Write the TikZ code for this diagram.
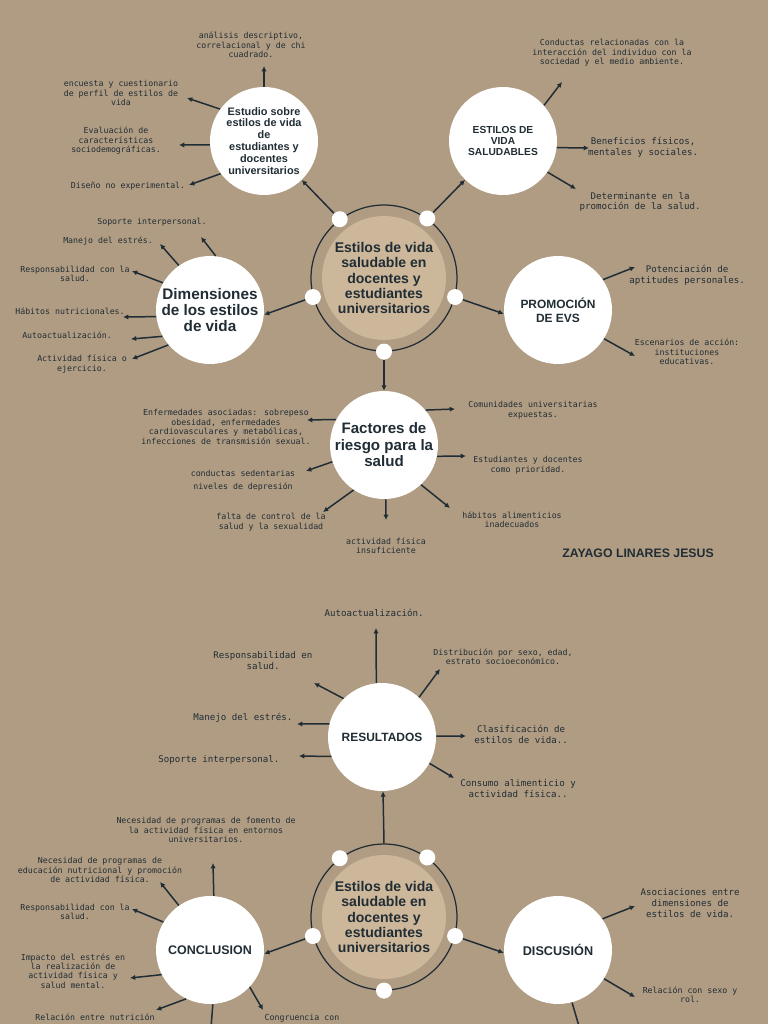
\documentclass[tikz,border=0pt]{standalone}
\usepackage{fontspec}
\setmainfont{Liberation Sans}
\newfontfamily\notefont{DejaVu Sans Mono}
\usetikzlibrary{arrows.meta}
\definecolor{paper}{RGB}{176,156,131}
\definecolor{sand}{RGB}{205,183,155}
\definecolor{ink}{RGB}{33,45,52}

\begin{document}
\begin{tikzpicture}[x=0.02cm, y=-0.02cm,
  hub/.style={circle,fill=sand,minimum size=2.48cm,inner sep=0pt,align=center,text=ink,font=\bfseries\fontsize{8}{8.6}\selectfont},
  ring/.style={circle,draw=ink,line width=0.7pt,minimum size=2.92cm,inner sep=0pt},
  knob/.style={circle,fill=white,minimum size=0.32cm,inner sep=0pt},
  topic/.style={circle,fill=white,minimum size=2.16cm,inner sep=0pt,align=center,text=ink},
  note/.style={align=center,text=ink,inner sep=0pt,font=\notefont\fontsize{4.7}{5.4}\selectfont},
  bignote/.style={note,font=\notefont\fontsize{5.2}{6.2}\selectfont},
  spoke/.style={draw=ink,line width=0.85pt,-{Latex[length=3pt,width=3pt]}}]
  \useasboundingbox (0,0) rectangle (768,1024);
  \fill[paper] (0,0) rectangle (768,1024);
  \clip (0,0) rectangle (768,1024);

  % upper map
  \node[ring] (ringA) at (384,278) {};
  \node[hub] (hubA) at (384,278) {Estilos de vida\\saludable en\\docentes y\\estudiantes\\universitarios};
  \foreach \a/\n in {127/nw,54/ne,195/w,345/e,270/s} \node[knob] (kA\n) at (ringA.\a) {};

  \node[topic,font=\bfseries\fontsize{6.2}{6.8}\selectfont] (estudio) at (264,141) {Estudio sobre\\estilos de vida\\de\\estudiantes y\\docentes\\universitarios};
  \node[topic,font=\bfseries\fontsize{5.8}{6.1}\selectfont] (saludables) at (503,141) {ESTILOS DE\\VIDA\\SALUDABLES};
  \node[topic,font=\bfseries\fontsize{6.8}{8}\selectfont] (promocion) at (558,310) {PROMOCIÓN\\DE EVS};
  \node[topic,font=\bfseries\fontsize{8.7}{9.1}\selectfont] (dimensiones) at (210,310) {Dimensiones\\de los estilos\\de vida};
  \node[topic,font=\bfseries\fontsize{8.6}{9.4}\selectfont] (factores) at (384,445) {Factores de\\riesgo para la\\salud};

  \draw[spoke] (kAnw) -- (estudio);
  \draw[spoke] (kAne) -- (saludables);
  \draw[spoke] (kAe) -- (promocion.184);
  \draw[spoke] (kAw) -- (dimensiones.355);
  \draw[spoke] (kAs) -- (factores);

  \foreach \n/\a/\x/\y in {1/90/264/66, 2/144/187/98, 3/184/179/145, 4/217/189/185} {
    \coordinate (estudio-\n) at (\x,\y);
    \draw[spoke] (estudio.\a) -- (estudio-\n);
  }
  \foreach \n/\a/\x/\y in {1/41/562/82, 2/353/589/148, 3/325/576/189} {
    \coordinate (saludables-\n) at (\x,\y);
    \draw[spoke] (saludables.\a) -- (saludables-\n);
  }
  \foreach \n/\a/\x/\y in {1/34/635/267, 2/328/635/356} {
    \coordinate (promocion-\n) at (\x,\y);
    \draw[spoke] (promocion.\a) -- (promocion-\n);
  }
  \foreach \n/\a/\x/\y in {1/84/201/237, 2/125/160/244, 3/150/132/271, 4/187/123/317, 5/209/131/339, 6/220/132/359} {
    \coordinate (dimensiones-\n) at (\x,\y);
    \draw[spoke] (dimensiones.\a) -- (dimensiones-\n);
  }
  \foreach \n/\a/\x/\y in {1/40/455/409, 2/348/466/456, 3/313/450/508, 4/272/386/520, 5/236/323/512, 6/198/306/471, 7/152/307/420} {
    \coordinate (factores-\n) at (\x,\y);
    \draw[spoke] (factores.\a) -- (factores-\n);
  }

  \node[note] (estudio-t1) at (251,45) {análisis descriptivo,\\correlacional y de chi\\cuadrado.};
  \node[note] (estudio-t2) at (121,93) {encuesta y cuestionario\\de perfil de estilos de\\vida};
  \node[note] (estudio-t3) at (116,141) {Evaluación de\\características\\sociodemográficas.};
  \node[note] (estudio-t4) at (128,186) {Diseño no experimental.};
  \node[note] (saludables-t1) at (612,53) {Conductas relacionadas con la\\interacción del individuo con la\\sociedad y el medio ambiente.};
  \node[bignote] (saludables-t2) at (643,147) {Beneficios físicos,\\mentales y sociales.};
  \node[bignote] (saludables-t3) at (640,202) {Determinante en la\\promoción de la salud.};
  \node[bignote] (promocion-t1) at (687,275) {Potenciación de\\aptitudes personales.};
  \node[note] (promocion-t2) at (687,352) {Escenarios de acción:\\instituciones\\educativas.};
  \node[note] (dimensiones-t1) at (152,222) {Soporte interpersonal.};
  \node[note] (dimensiones-t2) at (108,241) {Manejo del estrés.};
  \node[note] (dimensiones-t3) at (75,274) {Responsabilidad con la\\salud.};
  \node[note] (dimensiones-t4) at (70,311) {Hábitos nutricionales.};
  \node[note] (dimensiones-t5) at (67,335) {Autoactualización.};
  \node[note] (dimensiones-t6) at (82,364) {Actividad física o\\ejercicio.};
  \node[note] (factores-t1) at (533,410) {Comunidades universitarias\\expuestas.};
  \node[note] (factores-t2) at (528,465) {Estudiantes y docentes\\como prioridad.};
  \node[note] (factores-t3) at (512,520) {hábitos alimenticios\\inadecuados};
  \node[note] (factores-t4) at (386,546) {actividad física\\insuficiente};
  \node[note] (factores-t5) at (271,522) {falta de control de la\\salud y la sexualidad};
  \node[note] (factores-t6) at (243,473) {conductas sedentarias};
  \node[note] (factores-t8) at (243,487) {niveles de depresión};
  \node[note] (factores-t7) at (226,427) {Enfermedades asociadas: sobrepeso\\obesidad, enfermedades\\cardiovasculares y metabólicas,\\infecciones de transmisión sexual.};

  \node[text=ink,font=\bfseries\fontsize{7}{8}\selectfont] (autor) at (638,553) {ZAYAGO LINARES JESUS};

  % lower map
  \node[ring] (ringB) at (384,917) {};
  \node[hub] (hubB) at (384,917) {Estilos de vida\\saludable en\\docentes y\\estudiantes\\universitarios};
  \foreach \a/\n in {127/nw,54/ne,195/w,345/e,270/s} \node[knob] (kB\n) at (ringB.\a) {};

  \node[topic,font=\bfseries\fontsize{6.8}{8}\selectfont] (resultados) at (382,737) {RESULTADOS};
  \node[topic,font=\bfseries\fontsize{7.1}{8}\selectfont] (conclusion) at (210,950) {CONCLUSION};
  \node[topic,font=\bfseries\fontsize{7.2}{8}\selectfont] (discusion) at (558,950) {DISCUSIÓN};

  \draw[spoke] (ringB.north) -- (resultados);
  \draw[spoke] (kBw) -- (conclusion.356);
  \draw[spoke] (kBe) -- (discusion.183);

  \foreach \n/\a/\x/\y in {1/96/376/628, 2/135/314/683, 3/166/297/724, 4/201/299/756, 5/47/440/669, 6/1/466/736, 7/331/454/778} {
    \coordinate (resultados-\n) at (\x,\y);
    \draw[spoke] (resultados.\a) -- (resultados-\n);
  }
  \foreach \n/\a/\x/\y in {1/86/213/863, 2/125/160/882, 3/149/132/909, 4/207/130/978, 5/244/156/1010, 6/273/210/1040, 7/317/263/1010} {
    \coordinate (conclusion-\n) at (\x,\y);
    \draw[spoke] (conclusion.\a) -- (conclusion-\n);
  }
  \foreach \n/\a/\x/\y in {1/35/635/906, 2/328/635/997, 3/285/583/1040} {
    \coordinate (discusion-\n) at (\x,\y);
    \draw[spoke] (discusion.\a) -- (discusion-\n);
  }

  \node[bignote] (resultados-t1) at (374,613) {Autoactualización.};
  \node[bignote] (resultados-t2) at (263,661) {Responsabilidad en\\salud.};
  \node[bignote] (resultados-t3) at (243,718) {Manejo del estrés.};
  \node[bignote] (resultados-t4) at (219,760) {Soporte interpersonal.};
  \node[note] (resultados-t5) at (503,657) {Distribución por sexo, edad,\\estrato socioeconómico.};
  \node[bignote] (resultados-t6) at (521,734) {Clasificación de\\estilos de vida..};
  \node[bignote] (resultados-t7) at (518,789) {Consumo alimenticio y\\actividad física..};
  \node[note] (conclusion-t1) at (206,830) {Necesidad de programas de fomento de\\la actividad física en entornos\\universitarios.};
  \node[note] (conclusion-t2) at (100,870) {Necesidad de programas de\\educación nutricional y promoción\\de actividad física.};
  \node[note] (conclusion-t3) at (75,912) {Responsabilidad con la\\salud.};
  \node[note] (conclusion-t4) at (73,971) {Impacto del estrés en\\la realización de\\actividad física y\\salud mental.};
  \node[note,anchor=north] (conclusion-t5) at (95,1014) {Relación entre nutrición};
  \node[note,anchor=north] (conclusion-t7) at (302,1014) {Congruencia con};
  \node[bignote] (discusion-t1) at (690,903) {Asociaciones entre\\dimensiones de\\estilos de vida.};
  \node[note] (discusion-t2) at (690,995) {Relación con sexo y\\rol.};
\end{tikzpicture}
\end{document}
